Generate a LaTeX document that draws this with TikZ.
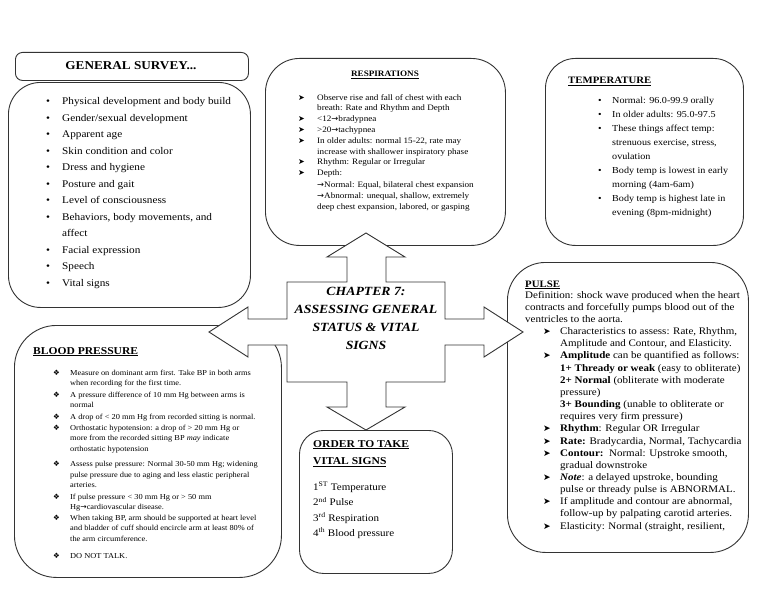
\documentclass[tikz,border=0pt]{standalone}
\usepackage{fontspec}
\setmainfont[FakeStretch=1.1]{Liberation Serif}
\newfontfamily\sym{DejaVu Sans}
\newcommand{\fs}[2]{\fontsize{#1}{#2}\selectfont}
\newcommand{\Bu}[1]{\makebox[#1][l]{•}}
\newcommand{\Ar}[2]{\makebox[#1][l]{\sym\fontsize{#2}{#2}\selectfont ➤}}
\newcommand{\Di}[2]{\makebox[#1][l]{\sym\fontsize{#2}{#2}\selectfont ❖}}
\newcommand{\Ra}{{\sym →}}
\begin{document}
\begin{tikzpicture}[x=1pt,y=-1pt,
 box/.style={draw=black!80, line width=0.9pt, fill=white, inner sep=0pt, anchor=north west},
 crossshape/.style={draw=black!80, line width=0.9pt, fill=white, line join=miter},
 txt/.style={anchor=north west, inner sep=0pt, align=left},
 ttl/.style={anchor=base west, inner sep=0pt}]
\useasboundingbox[fill=white] (0,0) rectangle (768,594);

% boxes
\node[box, rounded corners=7pt, minimum width=233pt, minimum height=28pt] (gstitle) at (15,52) {};
\node[box, rounded corners=32pt, minimum width=242pt, minimum height=225pt] (gsbox) at (8,82) {};
\node[box, rounded corners=34pt, minimum width=240pt, minimum height=187pt] (resbox) at (265,58) {};
\node[box, rounded corners=30pt, minimum width=198pt, minimum height=187pt] (tempbox) at (545,58) {};
\node[box, rounded corners=38pt, minimum width=241pt, minimum height=290pt] (pulsebox) at (507,262) {};
\node[box, rounded corners=42pt, minimum width=267pt, minimum height=252pt] (bpbox) at (14,325) {};
\node[box, rounded corners=24pt, minimum width=153pt, minimum height=143pt] (orderbox) at (299,430) {};

% central cross arrow
\draw[crossshape] (366,233) -- (405,257) -- (386,257) -- (386,282) -- (445,282) -- (445,319)
 -- (484,319) -- (484,307) -- (523,332) -- (484,357) -- (484,345) -- (445,345) -- (445,382)
 -- (386,382) -- (386,407) -- (405,407) -- (366,430) -- (327,407) -- (347,407) -- (347,382)
 -- (287,382) -- (287,345) -- (248,345) -- (248,357) -- (209,332) -- (248,307) -- (248,319)
 -- (287,319) -- (287,282) -- (347,282) -- (347,257) -- (327,257) -- cycle;

\node[align=center, inner sep=0pt, font=\fs{12.5}{18}\bfseries\itshape] (chap) at (366,318)
 {CHAPTER 7:\\ASSESSING GENERAL\\STATUS \& VITAL\\SIGNS};

% general survey
\node[font=\fs{12}{14}\bfseries, inner sep=0pt] (gst) at (131,66) {GENERAL SURVEY...};
\node[txt, font=\fs{10.2}{16.5}] (gsl) at (46,97.5) {%
\Bu{16pt}Physical development and body build\\
\Bu{16pt}Gender/sexual development\\
\Bu{16pt}Apparent age\\
\Bu{16pt}Skin condition and color\\
\Bu{16pt}Dress and hygiene\\
\Bu{16pt}Posture and gait\\
\Bu{16pt}Level of consciousness\\
\Bu{16pt}Behaviors, body movements, and\\
\hspace*{16pt}affect\\
\Bu{16pt}Facial expression\\
\Bu{16pt}Speech\\
\Bu{16pt}Vital signs};

% respirations
\node[font=\fs{8.3}{9}\bfseries, inner sep=0pt] (rest) at (385,75) {\underline{RESPIRATIONS}};
\node[txt, font=\fs{8.3}{10.8}] (resl) at (298,94) {%
\Ar{19pt}{8}Observe rise and fall of chest with each\\
\hspace*{19pt}breath: Rate and Rhythm and Depth\\
\Ar{19pt}{8}<12\Ra bradypnea\\
\Ar{19pt}{8}>20\Ra tachypnea\\
\Ar{19pt}{8}In older adults: normal 15-22, rate may\\
\hspace*{19pt}increase with shallower inspiratory phase\\
\Ar{19pt}{8}Rhythm: Regular or Irregular\\
\Ar{19pt}{8}Depth:\\[1.5pt]
\hspace*{19pt}\Ra Normal: Equal, bilateral chest expansion\\
\hspace*{19pt}\Ra Abnormal: unequal, shallow, extremely\\
\hspace*{19pt}deep chest expansion, labored, or gasping};

% temperature
\node[ttl, font=\fs{9.8}{11}\bfseries] (tempt) at (568,84) {\underline{TEMPERATURE}};
\node[txt, font=\fs{9.2}{14.1}] (templ) at (598,96.5) {%
\Bu{14pt}Normal: 96.0-99.9 orally\\
\Bu{14pt}In older adults: 95.0-97.5\\
\Bu{14pt}These things affect temp:\\
\hspace*{14pt}strenuous exercise, stress,\\
\hspace*{14pt}ovulation\\
\Bu{14pt}Body temp is lowest in early\\
\hspace*{14pt}morning (4am-6am)\\
\Bu{14pt}Body temp is highest late in\\
\hspace*{14pt}evening (8pm-midnight)};

% pulse
\node[ttl, font=\fs{9.8}{11}\bfseries] (pulset) at (525,287) {\underline{PULSE}};
\node[txt, font=\fs{10}{12.15}] (pulsel) at (525,291) {%
Definition: shock wave produced when the heart\\
contracts and forcefully pumps blood out of the\\
ventricles to the aorta.\\
\hspace*{18pt}\Ar{17pt}{9}Characteristics to assess: Rate, Rhythm,\\
\hspace*{35pt}Amplitude and Contour, and Elasticity.\\
\hspace*{18pt}\Ar{17pt}{9}\textbf{Amplitude} can be quantified as follows:\\
\hspace*{35pt}\textbf{1+ Thready or weak} (easy to obliterate)\\
\hspace*{35pt}\textbf{2+ Normal} (obliterate with moderate\\
\hspace*{35pt}pressure)\\
\hspace*{35pt}\textbf{3+ Bounding} (unable to obliterate or\\
\hspace*{35pt}requires very firm pressure)\\
\hspace*{18pt}\Ar{17pt}{9}\textbf{Rhythm}: Regular OR Irregular\\
\hspace*{18pt}\Ar{17pt}{9}\textbf{Rate:} Bradycardia, Normal, Tachycardia\\
\hspace*{18pt}\Ar{17pt}{9}\textbf{Contour:}\ \ Normal: Upstroke smooth,\\
\hspace*{35pt}gradual downstroke\\
\hspace*{18pt}\Ar{17pt}{9}\textbf{\textit{Note}}: a delayed upstroke, bounding\\
\hspace*{35pt}pulse or thready pulse is ABNORMAL.\\
\hspace*{18pt}\Ar{17pt}{9}If amplitude and contour are abnormal,\\
\hspace*{35pt}follow-up by palpating carotid arteries.\\
\hspace*{18pt}\Ar{17pt}{9}Elasticity: Normal (straight, resilient,};

% blood pressure
\node[ttl, font=\fs{10.5}{12}\bfseries] (bpt) at (33,354) {\underline{BLOOD PRESSURE}};
\node[txt, font=\fs{7.6}{10.5}] (bpl) at (53,369.5) {%
\Di{17pt}{7.5}Measure on dominant arm first. Take BP in both arms\\
\hspace*{17pt}when recording for the first time.\\[1.2pt]
\Di{17pt}{7.5}A pressure difference of 10 mm Hg between arms is\\
\hspace*{17pt}normal\\[1.2pt]
\Di{17pt}{7.5}A drop of < 20 mm Hg from recorded sitting is normal.\\
\Di{17pt}{7.5}Orthostatic hypotension: a drop of > 20 mm Hg or\\
\hspace*{17pt}more from the recorded sitting BP \textit{may} indicate\\
\hspace*{17pt}orthostatic hypotension\\[5pt]
\Di{17pt}{7.5}Assess pulse pressure: Normal 30-50 mm Hg; widening\\
\hspace*{17pt}pulse pressure due to aging and less elastic peripheral\\
\hspace*{17pt}arteries.\\[1.2pt]
\Di{17pt}{7.5}If pulse pressure < 30 mm Hg or > 50 mm\\
\hspace*{17pt}Hg\Ra cardiovascular disease.\\
\Di{17pt}{7.5}When taking BP, arm should be supported at heart level\\
\hspace*{17pt}and bladder of cuff should encircle arm at least 80\% of\\
\hspace*{17pt}the arm circumference.\\[6.5pt]
\Di{17pt}{7.5}DO NOT TALK.};

% order to take vital signs
\node[txt, font=\fs{10.5}{17}\bfseries] (ordert) at (313,440) {\underline{ORDER TO TAKE}\\\underline{VITAL SIGNS}};
\node[txt, font=\fs{10}{15.3}] (orderl) at (313,482) {%
1\textsuperscript{ST} Temperature\\
2\textsuperscript{nd} Pulse\\
3\textsuperscript{rd} Respiration\\
4\textsuperscript{th} Blood pressure};
\end{tikzpicture}
\end{document}
